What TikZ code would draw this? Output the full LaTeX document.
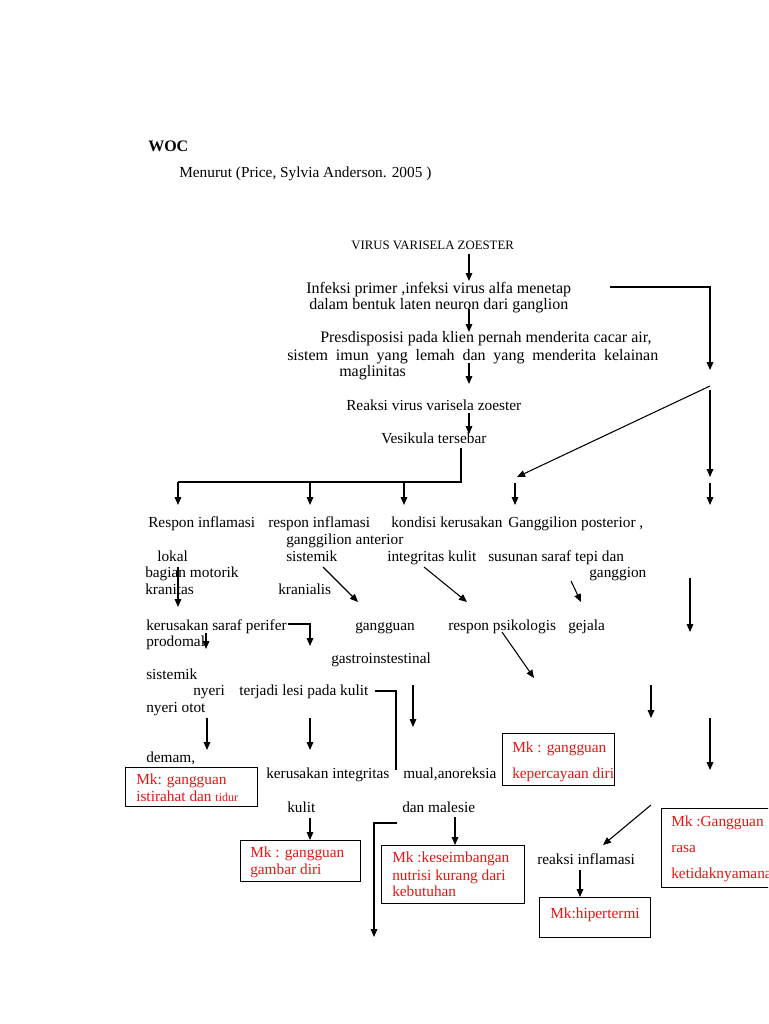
\documentclass[tikz,border=0pt]{standalone}
\usepackage{fontspec}
\setmainfont{Liberation Serif}
\usetikzlibrary{arrows.meta,positioning}
\definecolor{mkred}{RGB}{232,20,20}

\begin{document}
\begin{tikzpicture}[x=0.75pt,y=-0.75pt,every node/.style={font=\fontsize{11.5}{14}\selectfont},
 txt/.style={anchor=base west,inner sep=0pt},
 big/.style={txt,font=\fontsize{12}{14}\selectfont},
 mk/.style={txt,text=mkred},
 mkbox/.style 2 args={draw,line width=0.8pt,inner sep=0pt,anchor=north west,minimum width=#1*0.75pt,minimum height=#2*0.75pt},
 arr/.style={-{Triangle[length=6pt,width=5pt]},line width=0.8pt},
 ln/.style={line width=0.8pt}]
\path[use as bounding box,clip] (0,0) rectangle (768,1024);
% heading
\node[txt,font=\fontsize{12}{14}\selectfont\bfseries] (woc) at (148,151) {WOC};
\node[txt] (menurut) at (179,177) {Menurut (Price, Sylvia Anderson. 2005 )};
% main chain
\node[txt,font=\fontsize{9.6}{11}\selectfont] (virus) at (351,249) {VIRUS VARISELA ZOESTER};
\node[big] (infeksiA) at (306,293) {Infeksi primer ,infeksi virus alfa menetap};
\node[big] (infeksiB) at (309,309) {dalam bentuk laten neuron dari ganglion};
\node[big] (presA) at (320,342) {Presdisposisi pada klien pernah menderita cacar air,};
\node[big] (presB) at (287,360) {\makebox[278.25pt][s]{sistem imun yang lemah dan yang menderita kelainan}};
\node[big] (presC) at (339,376) {maglinitas};
\node[txt] (reaksi) at (346,410) {Reaksi virus varisela zoester};
\node[txt] (vesikula) at (381,443) {Vesikula tersebar};
\draw[arr] (469,254) -- (469,281);
\draw[arr] (469,309) -- (469,332);
\draw[arr] (469,363) -- (469,384);
\draw[arr] (469,413) -- (469,434);
\draw[arr] (610,287) -| (710,370);
\draw[arr] (710,386) -- (517,477);
\draw[arr] (710,390) -- (710,477);
\draw[ln] (461,448) |- (178,482);
\draw[arr] (178,482) -- (178,505);
\draw[arr] (310,482) -- (310,505);
\draw[arr] (404,482) -- (404,505);
\draw[arr] (515,483) -- (515,505);
\draw[arr] (710,483) -- (710,505);
% row of branches
\node[txt] (resLokA) at (148,527) {Respon inflamasi};
\node[txt] (resSisA) at (268,527) {respon inflamasi};
\node[txt] (kondisiA) at (391,527) {kondisi kerusakan};
\node[txt] (gangA) at (508,527) {Ganggilion posterior ,};
\node[txt] (gangB) at (286,544) {ganggilion anterior};
\node[txt] (resLokB) at (157,561) {lokal};
\node[txt] (resSisB) at (286,561) {sistemik};
\node[txt] (kondisiB) at (387,561) {integritas kulit};
\node[txt] (gangC) at (488,561) {susunan saraf tepi dan};
\node[txt] (motorA) at (145,577) {bagian motorik};
\node[txt] (gangD) at (589,577) {ganggion};
\node[txt] (motorB) at (145,594) {kranitas};
\node[txt] (kranialis) at (278,594) {kranialis};
\draw[arr] (178,567) -- (178,607);
\draw[arr] (323,567) -- (358,602);
\draw[arr] (424,567) -- (467,602);
\draw[arr] (571,581) -- (581,602);
\draw[arr] (690,578) -- (690,632);
% second level
\node[txt] (saraf) at (146,630) {kerusakan saraf perifer};
\node[txt] (gastroA) at (355,630) {gangguan};
\node[txt] (psikologis) at (448,630) {respon psikologis};
\node[txt] (gejala) at (568,630) {gejala};
\node[txt] (prodomal) at (146,646) {prodomal};
\node[txt] (gastroB) at (331,663) {gastroinstestinal};
\node[txt] (sistemik) at (146,679) {sistemik};
\node[txt] (nyeri) at (193,695) {nyeri};
\node[txt] (lesi) at (239,695) {terjadi lesi pada kulit};
\node[txt] (otot) at (146,712) {nyeri otot};
\node[txt] (demam) at (146,762) {demam,};
\node[txt] (integA) at (266,778) {kerusakan integritas};
\node[txt] (mual) at (403,778) {mual,anoreksia};
\node[txt] (integB) at (287,812) {kulit};
\node[txt] (malesie) at (402,812) {dan malesie};
\node[txt] (inflamasi) at (537,864) {reaksi inflamasi};
\draw[arr] (288,624) -| (310,646);
\draw[arr] (206,633) -- (206,649);
\draw[arr] (502,632) -- (534,678);
\draw[ln] (375,691) -| (396,770);
\draw[arr] (413,685) -- (413,727);
\draw[arr] (651,685) -- (651,718);
\draw[arr] (710,718) -- (710,770);
\draw[arr] (207,718) -- (207,750);
\draw[arr] (310,718) -- (310,750);
% diagnosa keperawatan
\node[mkbox={132}{39}] (bTidur) at (125,767) {};
\node[mk] (tTidurA) at (136,784) {Mk: gangguan};
\node[mk] (tTidurB) at (136,801) {istirahat dan {\fontsize{9}{10}\selectfont tidur}};
\node[mkbox={112}{52}] (bPercaya) at (502,733) {};
\node[mk] (tPercayaA) at (512,752) {Mk : gangguan};
\node[mk] (tPercayaB) at (512,778) {kepercayaan diri};
\node[mkbox={120}{41}] (bGambar) at (240,840) {};
\node[mk] (tGambarA) at (250,857) {Mk : gangguan};
\node[mk] (tGambarB) at (250,874) {gambar diri};
\node[mkbox={143}{58}] (bNutrisi) at (381,845) {};
\node[mk] (tNutrisiA) at (392,862) {Mk :keseimbangan};
\node[mk] (tNutrisiB) at (392,880) {nutrisi kurang dari};
\node[mk] (tNutrisiC) at (392,896) {kebutuhan};
\node[mkbox={111}{40}] (bHiper) at (539,897) {};
\node[mk] (tHiper) at (550,918) {Mk:hipertermi};
\node[mkbox={130}{79}] (bRasa) at (661,808) {};
\node[mk] (tRasaA) at (671,826) {Mk :Gangguan};
\node[mk] (tRasaB) at (671,852) {rasa};
\node[mk] (tRasaC) at (671,878) {ketidaknyamanan};
\draw[arr] (310,818) -- (bGambar.north -| 310,0);
\draw[arr] (455,817) -- (bNutrisi.north -| 455,0);
\draw[arr] (397,823) -| (374,937);
\draw[arr] (651,805) -- (603,845);
\draw[arr] (580,870) -- (bHiper.north -| 580,0);
\end{tikzpicture}
\end{document}
